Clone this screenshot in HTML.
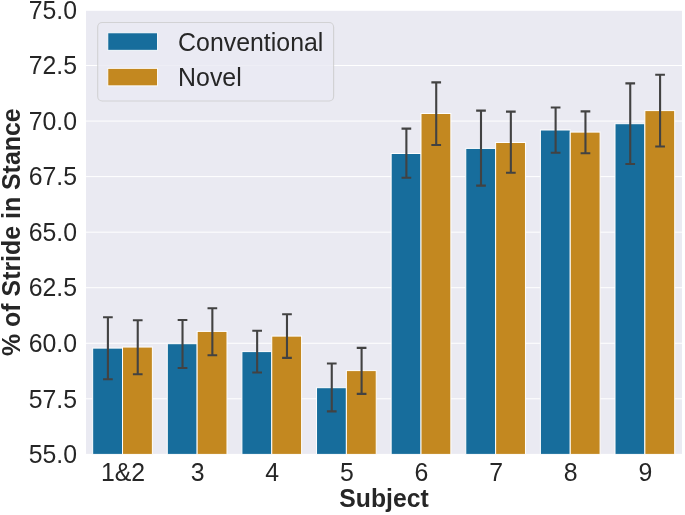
<!DOCTYPE html>
<html lang="en"><head><meta charset="utf-8"><title>% of Stride in Stance by Subject</title>
<style>html,body{margin:0;padding:0;background:#fff;overflow:hidden}svg{display:block}text{font-family:"Liberation Sans",sans-serif;fill:#262626}</style></head><body>
<svg width="685" height="515" viewBox="0 0 685 515">
<rect x="0" y="0" width="685" height="515" fill="#fff"/>
<rect x="86.00" y="10.80" width="596.00" height="443.10" fill="#eaeaf2"/>
<g stroke="#fff" stroke-width="1.0">
<line x1="86.00" y1="398.82" x2="682.00" y2="398.82"/>
<line x1="86.00" y1="343.27" x2="682.00" y2="343.27"/>
<line x1="86.00" y1="287.72" x2="682.00" y2="287.72"/>
<line x1="86.00" y1="232.17" x2="682.00" y2="232.17"/>
<line x1="86.00" y1="176.62" x2="682.00" y2="176.62"/>
<line x1="86.00" y1="121.07" x2="682.00" y2="121.07"/>
<line x1="86.00" y1="65.52" x2="682.00" y2="65.52"/>
</g>
<g stroke="#fff" stroke-width="1.0">
<rect x="92.67" y="348.10" width="29.85" height="106.30" fill="#176d9c"/>
<rect x="122.52" y="347.05" width="29.85" height="107.35" fill="#c38820"/>
<rect x="167.29" y="343.70" width="29.85" height="110.70" fill="#176d9c"/>
<rect x="197.14" y="331.40" width="29.85" height="123.00" fill="#c38820"/>
<rect x="241.91" y="351.60" width="29.85" height="102.80" fill="#176d9c"/>
<rect x="271.76" y="336.10" width="29.85" height="118.30" fill="#c38820"/>
<rect x="316.53" y="387.70" width="29.85" height="66.70" fill="#176d9c"/>
<rect x="346.38" y="370.60" width="29.85" height="83.80" fill="#c38820"/>
<rect x="391.15" y="153.50" width="29.85" height="300.90" fill="#176d9c"/>
<rect x="421.00" y="113.50" width="29.85" height="340.90" fill="#c38820"/>
<rect x="465.77" y="148.40" width="29.85" height="306.00" fill="#176d9c"/>
<rect x="495.62" y="142.50" width="29.85" height="311.90" fill="#c38820"/>
<rect x="540.39" y="130.00" width="29.85" height="324.40" fill="#176d9c"/>
<rect x="570.24" y="132.10" width="29.85" height="322.30" fill="#c38820"/>
<rect x="615.01" y="123.70" width="29.85" height="330.70" fill="#176d9c"/>
<rect x="644.86" y="110.60" width="29.85" height="343.80" fill="#c38820"/>
</g>
<g stroke="#424242" stroke-width="2.1" fill="none" stroke-linecap="butt">
<path d="M103.05 317.30H112.75M107.90 317.30V379.20M103.05 379.20H112.75"/>
<path d="M132.89 320.30H142.59M137.74 320.30V374.30M132.89 374.30H142.59"/>
<path d="M177.67 320.00H187.37M182.52 320.00V368.00M177.67 368.00H187.37"/>
<path d="M207.51 308.20H217.21M212.36 308.20V355.20M207.51 355.20H217.21"/>
<path d="M252.29 330.80H261.99M257.14 330.80V372.50M252.29 372.50H261.99"/>
<path d="M282.13 314.20H291.83M286.98 314.20V357.90M282.13 357.90H291.83"/>
<path d="M326.91 363.50H336.61M331.76 363.50V411.40M326.91 411.40H336.61"/>
<path d="M356.75 347.90H366.45M361.60 347.90V393.90M356.75 393.90H366.45"/>
<path d="M401.53 128.60H411.23M406.38 128.60V177.70M401.53 177.70H411.23"/>
<path d="M431.37 82.40H441.07M436.22 82.40V145.00M431.37 145.00H441.07"/>
<path d="M476.15 110.60H485.85M481.00 110.60V185.60M476.15 185.60H485.85"/>
<path d="M505.99 111.60H515.69M510.84 111.60V172.80M505.99 172.80H515.69"/>
<path d="M550.77 107.50H560.47M555.62 107.50V152.80M550.77 152.80H560.47"/>
<path d="M580.61 111.40H590.31M585.46 111.40V153.20M580.61 153.20H590.31"/>
<path d="M625.39 83.40H635.09M630.24 83.40V164.00M625.39 164.00H635.09"/>
<path d="M655.23 74.80H664.93M660.08 74.80V146.50M655.23 146.50H664.93"/>
</g>
<g font-size="24.85" text-anchor="end">
<text transform="translate(77 463.12) scale(1 1.043)">55.0</text>
<text transform="translate(77 407.57) scale(1 1.043)">57.5</text>
<text transform="translate(77 352.02) scale(1 1.043)">60.0</text>
<text transform="translate(77 296.47) scale(1 1.043)">62.5</text>
<text transform="translate(77 240.92) scale(1 1.043)">65.0</text>
<text transform="translate(77 185.37) scale(1 1.043)">67.5</text>
<text transform="translate(77 129.82) scale(1 1.043)">70.0</text>
<text transform="translate(77 74.27) scale(1 1.043)">72.5</text>
<text transform="translate(77 18.72) scale(1 1.043)">75.0</text>
</g>
<g font-size="24.85" text-anchor="middle">
<text transform="translate(123.02 480.9) scale(1 1.043)">1&amp;2</text>
<text transform="translate(197.64 480.9) scale(1 1.043)">3</text>
<text transform="translate(272.26 480.9) scale(1 1.043)">4</text>
<text transform="translate(346.88 480.9) scale(1 1.043)">5</text>
<text transform="translate(421.50 480.9) scale(1 1.043)">6</text>
<text transform="translate(496.12 480.9) scale(1 1.043)">7</text>
<text transform="translate(570.74 480.9) scale(1 1.043)">8</text>
<text transform="translate(645.36 480.9) scale(1 1.043)">9</text>
</g>
<text transform="translate(384.0 507.4) scale(1 1.005)" font-size="24.75" font-weight="bold" text-anchor="middle">Subject</text>
<text transform="translate(20.0 232.15) rotate(-90)" font-size="24.90" font-weight="bold" text-anchor="middle">% of Stride in Stance</text>
<rect x="97.7" y="22.5" width="235.9" height="78.5" rx="4.5" ry="4.5" fill="#eaeaf2" fill-opacity="0.8" stroke="#cccccc" stroke-opacity="0.8" stroke-width="1.1"/>
<rect x="107.8" y="32.8" width="49.7" height="17.5" fill="#176d9c" stroke="#fff" stroke-width="0.9"/>
<rect x="107.8" y="68.35" width="49.7" height="17.5" fill="#c38820" stroke="#fff" stroke-width="0.9"/>
<g font-size="24.90">
<text transform="translate(178.1 50.9) scale(1 1.008)">Conventional</text>
<text transform="translate(178.1 85.5) scale(1 1.008)">Novel</text>
</g>
</svg></body></html>
